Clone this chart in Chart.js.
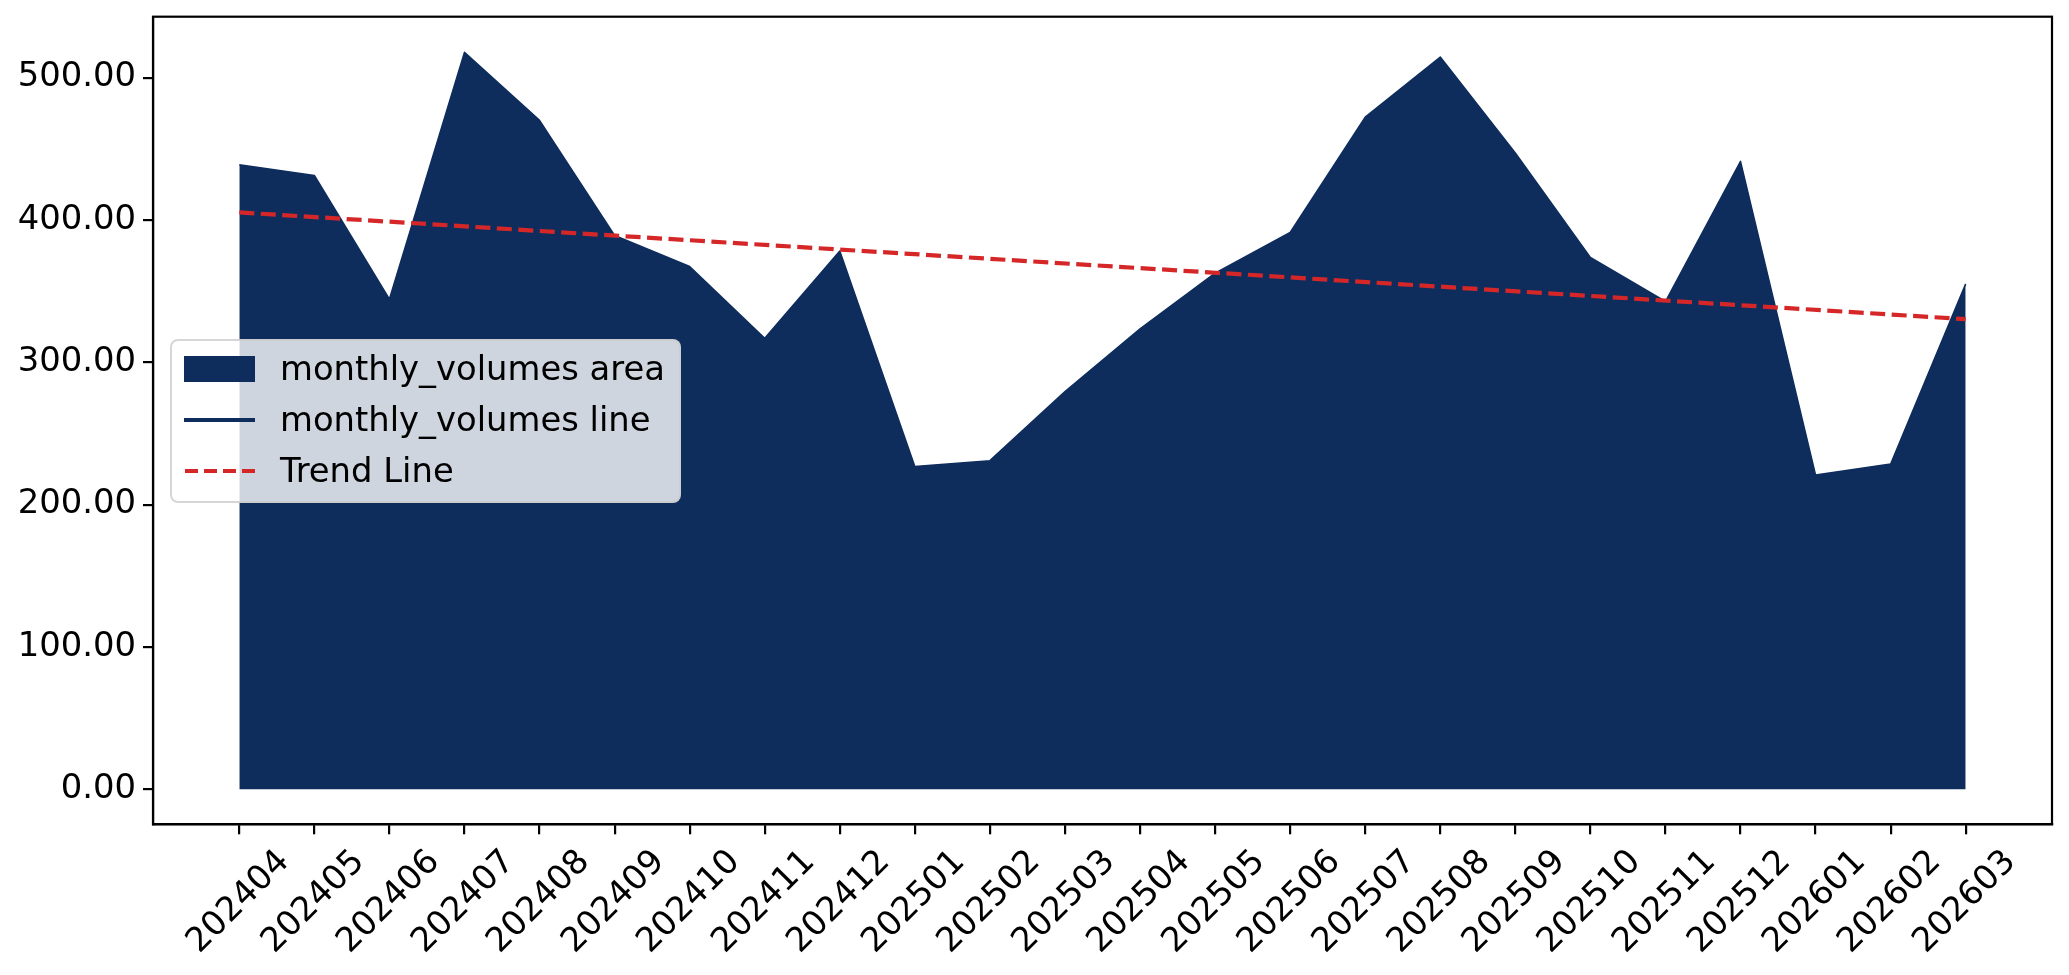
<!DOCTYPE html>
<html>
<head>
<meta charset="utf-8">
<script src="https://cdn.jsdelivr.net/npm/chart.js@4.4.0/dist/chart.umd.min.js"></script>
<style>
  html, body { margin: 0; padding: 0; background: #ffffff; }
  #wrap { position: relative; width: 2069px; height: 975px; overflow: hidden; }
  canvas { display: block; }
  #legend {
    position: absolute; left: 170px; top: 339px; width: 511px; height: 164px;
    box-sizing: border-box; border: 2px solid rgba(204,204,204,0.8); border-radius: 8px;
    background: rgba(255,255,255,0.8);
    font-family: 'DejaVu Sans', sans-serif; font-size: 33.8px; color: #000;
  }
  .row { position: absolute; left: 0; height: 40px; width: 100%; }
  .row svg { position: absolute; left: 12px; top: 0; }
  .row span { position: absolute; left: 108px; top: 0; line-height: 40px; white-space: nowrap; }
</style>
</head>
<body>
<div id="wrap">
  <canvas id="c" width="2069" height="975"></canvas>
  <div id="legend"></div>
</div>
<script>
// ---- data ----
const categories = ['202404','202405','202406','202407','202408','202409','202410','202411','202412',
  '202501','202502','202503','202504','202505','202506','202507','202508','202509','202510','202511','202512',
  '202601','202602','202603'];
const monthlyVolumes = [438.8, 431.3, 344.4, 517.8, 470.0, 389.1, 367.3, 316.9, 378.2,
  226.7, 230.9, 279.4, 323.5, 362.6, 391.2, 472.3, 514.5, 447.0, 373.7, 342.7, 441.2,
  220.8, 228.5, 355.1];
const trendIndex = [0, 23];
const trendValues = [405.3, 330.3];
const yTickValues = [0, 100, 200, 300, 400, 500];
const seriesLabels = ['monthly_volumes area', 'monthly_volumes line', 'Trend Line'];

// ---- styles ----
const NAVY = '#0e2d5d';
const RED = '#d62728';
const FONT = "'DejaVu Sans', sans-serif";

const areaPoints = monthlyVolumes.map((v, i) => ({ x: i, y: v }));
const trendPoints = trendIndex.map((x, i) => ({ x: x, y: trendValues[i] }));

const spinePlugin = {
  id: 'spines',
  afterDraw(chart) {
    const { ctx, chartArea: a } = chart;
    ctx.save();
    ctx.strokeStyle = '#000';
    ctx.lineWidth = 2.2;
    ctx.strokeRect(a.left, a.top, a.right - a.left, a.bottom - a.top);
    ctx.restore();
  }
};

const chart = new Chart(document.getElementById('c'), {
  type: 'line',
  data: {
    datasets: [
      { label: seriesLabels[0], data: areaPoints, fill: 'origin', backgroundColor: NAVY,
        borderWidth: 0, borderColor: 'rgba(0,0,0,0)', pointRadius: 0, tension: 0, order: 3 },
      { label: seriesLabels[1], data: areaPoints, fill: false, borderColor: NAVY, borderWidth: 1.5,
        borderJoinStyle: 'round', borderCapStyle: 'butt', pointRadius: 0, tension: 0, order: 2 },
      { label: seriesLabels[2], data: trendPoints, fill: false, borderColor: RED, borderWidth: 4.2,
        borderDash: [15, 6.5], pointRadius: 0, tension: 0, order: 1 }
    ]
  },
  options: {
    responsive: false,
    animation: false,
    devicePixelRatio: 1,
    layout: { padding: { top: 16.7, right: 17, left: 0, bottom: 0 } },
    plugins: { legend: { display: false }, tooltip: { enabled: false } },
    scales: {
      x: {
        type: 'linear', min: -1.15, max: 24.15,
        afterBuildTicks(s) { s.ticks = categories.map((c, i) => ({ value: i })); },
        afterFit(s) { s.height = 150.7; s.paddingLeft = 0; s.paddingRight = 0; },
        ticks: {
          autoSkip: false, maxRotation: 45, minRotation: 45, labelOffset: 45, padding: 8,
          color: '#000', font: { family: FONT, size: 33.8 },
          callback: (v) => categories[v]
        },
        grid: { drawOnChartArea: false, drawTicks: true, tickLength: 10, color: '#000', lineWidth: 2.2 },
        border: { display: true, color: '#000', width: 2.2 }
      },
      y: {
        min: -24.6, max: 542.8,
        afterBuildTicks(s) { s.ticks = yTickValues.map(v => ({ value: v })); },
        afterFit(s) { s.width = 153; s.paddingTop = 0; s.paddingBottom = 0; },
        ticks: {
          padding: 7, color: '#000', font: { family: FONT, size: 33.8 },
          callback: (v) => Number(v).toFixed(2)
        },
        grid: { drawOnChartArea: false, drawTicks: true, tickLength: 10, color: '#000', lineWidth: 2.2 },
        border: { display: true, color: '#000', width: 2.2 }
      }
    }
  },
  plugins: [spinePlugin]
});

// ---- legend (HTML, built from the chart datasets) ----
const legend = document.getElementById('legend');
const rowTops = [8, 59, 110];
chart.data.datasets.forEach((ds, i) => {
  const row = document.createElement('div');
  row.className = 'row';
  row.style.top = rowTops[i] + 'px';
  let handle;
  if (i === 0) {
    handle = `<svg width="72" height="40"><rect x="0" y="7" width="71" height="26" fill="${ds.backgroundColor}"/></svg>`;
  } else if (i === 1) {
    handle = `<svg width="72" height="40"><line x1="0" y1="20" x2="71" y2="20" stroke="${ds.borderColor}" stroke-width="4.2"/></svg>`;
  } else {
    handle = `<svg width="72" height="40"><line x1="1" y1="20" x2="71" y2="20" stroke="${ds.borderColor}" stroke-width="4.2" stroke-dasharray="13 6"/></svg>`;
  }
  row.innerHTML = handle + `<span>${ds.label}</span>`;
  legend.appendChild(row);
});
</script>
</body>
</html>
